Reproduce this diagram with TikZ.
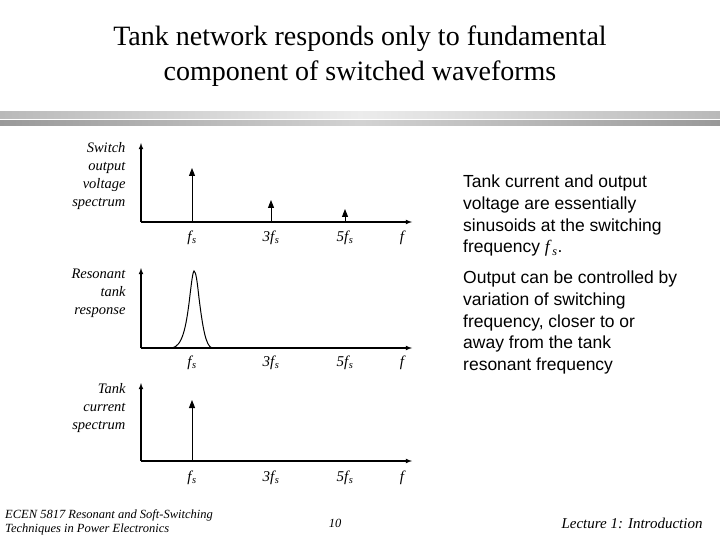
\documentclass[tikz,border=0pt]{standalone}
\usepackage{fontspec}
\setmainfont{Liberation Serif}
\newfontfamily\arial{Liberation Sans}
\newcommand{\fsub}[1]{#1\textit{f}\kern0.5pt\textsubscript{\textit{s}}}
\begin{document}
\begin{tikzpicture}[x=1pt,y=-1pt,
  ax/.style={line width=1.1pt,-latex},
  sp/.style={line width=1pt,-{Triangle[width=6pt,length=8pt]}},
  ylab/.style={font=\itshape\fontsize{14.5}{18}\selectfont,align=right,anchor=east},
  xlab/.style={font=\itshape\fontsize{15}{16}\selectfont},
  body/.style={font=\arial\fontsize{17.5}{21.7}\selectfont,align=left,anchor=north west,inner sep=0pt},
  foot/.style={font=\itshape\fontsize{12.5}{14}\selectfont}]
\useasboundingbox[fill=white] (0,0) rectangle (720,540);
\usetikzlibrary{arrows.meta}
\node[font=\fontsize{28}{35}\selectfont,align=center] (title) at (360,56) {Tank network responds only to fundamental\\component of switched waveforms};
\shade[left color=gray!55,right color=gray!55,middle color=gray!15] (0,112) rectangle (720,119);
\shade[left color=gray!80,right color=gray!80,middle color=gray!35] (0,121) rectangle (720,126);
% graph 1
\coordinate (o1) at (141,222);
\draw[ax] (o1) -- (141,143);
\draw[ax] (o1) -- (412,222);
\draw[sp] (192,222) -- (192,168);
\draw[sp] (271,222) -- (271,200);
\draw[sp] (345,222) -- (345,209);
\node[ylab] (l1) at (129,176) {Switch\\output\\voltage\\spectrum};
\foreach \x/\t/\n in {192//p1,271/3/p2,345/5/p3}
  \node[xlab] (\n) at (\x,238) {\fsub{\t}};
\node[xlab] (p4) at (402,238) {f};
% graph 2
\coordinate (o2) at (141,348);
\draw[ax] (o2) -- (141,268);
\draw[ax] (o2) -- (412,348);
\draw[line width=1pt] (172,348) .. controls (182,346) and (186,330) .. (190,295) .. controls (192,278) and (193,272) .. (194,271) .. controls (196,272) and (197,280) .. (199,298) .. controls (203,330) and (206,346) .. (212,348);
\node[ylab] (l2) at (129,293) {Resonant\\tank\\response};
\foreach \x/\t/\n in {192//q1,271/3/q2,345/5/q3}
  \node[xlab] (\n) at (\x,363) {\fsub{\t}};
\node[xlab] (q4) at (402,363) {f};
% graph 3
\coordinate (o3) at (141,461);
\draw[ax] (o3) -- (141,383);
\draw[ax] (o3) -- (412,461);
\draw[sp] (192,461) -- (192,400);
\node[ylab] (l3) at (129,408) {Tank\\current\\spectrum};
\foreach \x/\t/\n in {192//r1,271/3/r2,345/5/r3}
  \node[xlab] (\n) at (\x,478) {\fsub{\t}};
\node[xlab] (r4) at (402,478) {f};
% text
\node[body] (t1) at (463,175) {Tank current and output\\voltage are essentially\\sinusoids at the switching\\frequency {\rmfamily\fsub{}}.};
\node[body] (t2) at (463,271) {Output can be controlled by\\variation of switching\\frequency, closer to or\\away from the tank\\resonant frequency};
\node[foot,align=left,anchor=west,inner sep=0pt] (f1) at (5,522) {ECEN 5817 Resonant and Soft-Switching\\Techniques in Power Electronics};
\node[foot] (f2) at (335,523) {10};
\node[foot,anchor=east,font=\itshape\fontsize{15}{16}\selectfont] (f3) at (706,523) {Lecture 1: Introduction};
\end{tikzpicture}
\end{document}
